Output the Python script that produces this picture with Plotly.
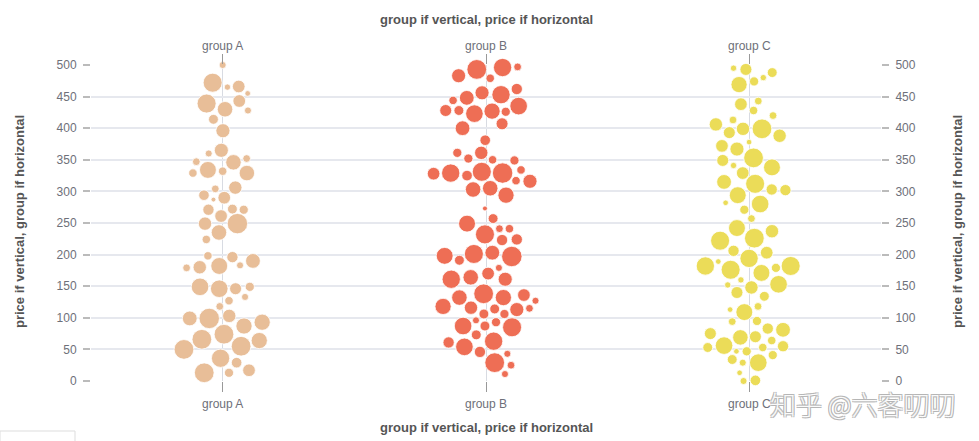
import plotly.graph_objects as go

groups = ["group A", "group B", "group C"]
colors = ["#E8BE98", "#EE6E55", "#EBDC58"]
y_ticks = [0, 50, 100, 150, 200, 250, 300, 350, 400, 450, 500]
axis_title_x = "group if vertical, price if horizontal"
axis_title_y = "price if vertical, group if horizontal"

# group A
a_price = [500, 472, 465, 466, 455, 439, 443, 430, 428, 414,
           396, 365, 360, 347, 346, 352, 334, 332, 329, 329,
           306, 304, 294, 290, 287, 271, 272, 271, 261, 249,
           249, 235, 224, 198, 196, 190, 180, 182, 179, 183,
           149, 146, 146, 149, 133, 127, 118, 99, 99, 103,
           87, 93, 66, 74, 64, 50, 55, 36, 29, 13, 13, 17]
a_jitter = [0, -0.038, 0.018, 0.061, 0.095, -0.061, 0.063, 0.009, 0.096, -0.035,
            0.001, -0.005, -0.053, -0.100, 0.041, 0.091, -0.056, 0, -0.113, 0.092,
            0.048, -0.028, -0.071, 0.006, -0.035, -0.054, 0.037, 0.080, -0.006, 0.056,
            -0.067, -0.014, -0.062, -0.056, 0.037, 0.115, -0.087, -0.013, -0.137, 0.066,
            -0.086, -0.013, 0.049, 0.103, 0.085, 0.024, -0.011, -0.125, -0.051, 0.025,
            0.081, 0.150, -0.079, 0.005, 0.139, -0.147, 0.070, -0.008, 0.053, -0.070, 0.024, 0.100]
a_amount = [10, 27, 9, 18, 8, 27, 18, 22, 10, 14,
            20, 20, 10, 11, 22, 11, 24, 12, 12, 22,
            19, 11, 15, 18, 7, 16, 14, 13, 18, 29,
            19, 22, 12, 12, 16, 21, 19, 24, 11, 10,
            25, 25, 17, 13, 10, 12, 11, 21, 29, 19,
            23, 23, 28, 28, 23, 28, 28, 26, 15, 28, 13, 18]

# group B
b_price = [483, 493, 479, 496, 497, 444, 448, 456, 453, 462,
           428, 428, 423, 427, 426, 435, 400, 407, 381, 361,
           352, 361, 350, 349, 328, 329, 325, 331, 329, 334,
           317, 316, 303, 305, 294, 273, 249, 257, 232, 241,
           241, 223, 224, 198, 191, 201, 203, 197, 179, 161,
           164, 170, 161, 132, 138, 132, 136, 127, 118, 116,
           106, 114, 106, 113, 115, 87, 96, 87, 93, 85,
           73, 61, 54, 63, 46, 29, 43, 25, 11]
b_jitter = [-0.104, -0.035, 0.016, 0.063, 0.120, -0.125, -0.073, -0.015, 0.057, 0.117,
            -0.153, -0.103, -0.044, 0.023, 0.075, 0.124, -0.089, 0.061, -0.003, -0.109,
            -0.067, -0.018, 0.025, 0.108, -0.199, -0.134, -0.072, -0.016, 0.063, 0.133,
            0.114, 0.167, -0.049, 0.016, 0.076, -0.004, -0.072, 0.027, -0.004, 0.051,
            0.089, 0.061, 0.117, -0.157, -0.101, -0.046, 0.024, 0.098, 0.049, -0.132,
            -0.058, 0.008, 0.073, -0.101, -0.009, 0.066, 0.144, 0.188, -0.163, -0.057,
            -0.008, 0.033, 0.070, 0.117, 0.165, -0.087, -0.038, -0.004, 0.038, 0.099,
            -0.037, -0.142, -0.082, 0.029, -0.023, 0.033, 0.081, 0.095, 0.072]
b_amount = [20, 28, 12, 26, 11, 12, 21, 20, 26, 16,
            17, 14, 25, 23, 13, 25, 21, 17, 15, 13,
            13, 19, 12, 13, 18, 26, 15, 27, 29, 12,
            12, 20, 22, 22, 23, 7, 24, 14, 27, 11,
            12, 16, 16, 24, 14, 27, 21, 29, 10, 26,
            22, 18, 20, 22, 28, 23, 18, 10, 23, 19,
            14, 14, 13, 20, 11, 25, 10, 14, 13, 27,
            14, 16, 25, 26, 16, 28, 10, 11, 10]

# group C
c_price = [495, 493, 469, 474, 480, 488, 438, 443, 428, 420,
           406, 413, 393, 399, 399, 388, 372, 367, 378, 349,
           341, 353, 338, 329, 315, 312, 303, 302, 294, 282,
           280, 271, 257, 242, 237, 222, 226, 206, 203, 194,
           182, 189, 176, 171, 179, 182, 160, 152, 148, 140,
           153, 134, 118, 109, 113, 94, 95, 75, 56, 69,
           70, 83, 81, 64, 53, 47, 47, 53, 55, 41,
           34, 29, 29, 13, 0, 1]
c_jitter = [-0.060, -0.013, -0.039, 0.018, 0.053, 0.087, -0.032, 0.034, 0.016, 0.090,
            -0.127, -0.062, -0.076, -0.024, 0.048, 0.115, -0.104, -0.047, -0.001, -0.101,
            -0.060, 0.016, 0.086, -0.025, -0.096, 0.022, 0.085, 0.137, -0.044, -0.090,
            0.041, -0.019, 0.008, -0.047, 0.086, -0.111, 0.019, -0.060, 0.066, -0.001,
            -0.167, -0.118, -0.071, 0.046, 0.101, 0.157, -0.032, -0.082, 0.008, -0.047,
            0.111, 0.057, 0.033, -0.019, -0.073, -0.065, 0.029, -0.148, -0.096, -0.034,
            0.023, 0.070, 0.128, 0.085, -0.158, -0.049, -0.010, 0.051, 0.128, 0.089,
            -0.065, -0.025, 0.034, -0.037, -0.022, 0.023]
c_amount = [9, 17, 23, 13, 9, 14, 18, 11, 12, 11,
            19, 11, 17, 19, 28, 19, 18, 20, 8, 17,
            9, 28, 24, 18, 21, 27, 16, 16, 24, 8,
            25, 13, 11, 24, 19, 27, 28, 16, 18, 26,
            26, 8, 27, 24, 13, 27, 9, 9, 19, 17,
            25, 14, 11, 24, 8, 11, 13, 17, 25, 22,
            17, 16, 21, 12, 14, 8, 13, 12, 16, 13,
            14, 10, 25, 8, 10, 15]

series = [(a_price, a_jitter, a_amount), (b_price, b_jitter, b_amount), (c_price, c_jitter, c_amount)]

FONT = "Liberation Sans, Arial, sans-serif"
TICK_COLOR = "#6E7079"
GRID = "#E6E8EE"

W, H = 979, 441
ml, mr, mt, mb = 91, 98, 65, 60
pw, ph = W - ml - mr, H - mt - mb


def px_to_paper_x(px):
    return (px - ml) / pw


def px_to_paper_y(py):
    return (H - mb - py) / ph


fig = go.Figure()
for gi, (price, jit, amt) in enumerate(series):
    fig.add_trace(go.Scatter(
        x=[gi + j for j in jit], y=price, mode="markers",
        name=groups[gi], cliponaxis=False,
        marker=dict(size=amt, sizemode="diameter", sizeref=1.42,
                    color=colors[gi], opacity=1,
                    line=dict(color="white", width=0.8)),
        showlegend=False,
    ))
# invisible trace to activate secondary axes
fig.add_trace(go.Scatter(x=[0], y=[0], xaxis="x2", yaxis="y2", mode="markers",
                         marker=dict(opacity=0), showlegend=False, hoverinfo="skip"))

xcommon = dict(range=[-0.5, 2.5], tickmode="array", tickvals=[0, 1, 2], ticktext=groups,
               ticks="outside", ticklen=10, tickcolor="#999", tickwidth=1,
               tickfont=dict(family=FONT, size=12, color=TICK_COLOR), zeroline=False,
               showline=False)
ycommon = dict(range=[0, 500], tickmode="array", tickvals=y_ticks,
               ticks="outside", ticklen=7, tickcolor="#BBB", tickwidth=1.5,
               tickfont=dict(family=FONT, size=12, color=TICK_COLOR), zeroline=False,
               showline=False, ticklabelstandoff=4)

title_font = dict(family=FONT, size=13, color="#555")


def ann(text, px, py, angle=0, font=title_font):
    return dict(text=text, x=px_to_paper_x(px), y=px_to_paper_y(py), xref="paper", yref="paper",
                xanchor="center", yanchor="middle", showarrow=False, textangle=angle, font=font)


fig.update_layout(
    width=W, height=H,
    margin=dict(l=ml, r=mr, t=mt, b=mb),
    paper_bgcolor="white", plot_bgcolor="white",
    xaxis=dict(**xcommon, side="bottom", showgrid=True, gridcolor="#D8DBE2", gridwidth=1,
               ticklabelstandoff=2),
    xaxis2=dict(**xcommon, side="top", overlaying="x", showgrid=False, ticklabelstandoff=-1),
    yaxis=dict(**ycommon, side="left", showgrid=True, gridcolor=GRID, gridwidth=1.5),
    yaxis2=dict(**ycommon, side="right", overlaying="y", showgrid=False),
    annotations=[
        ann("<b>" + axis_title_x + "</b>", 486, 20),
        ann("<b>" + axis_title_x + "</b>", 486, 428),
        ann("<b>" + axis_title_y + "</b>", 19, 222, -90),
        ann("<b>" + axis_title_y + "</b>", 957, 222, -90),
        ann("知乎 @六客叨叨", 862, 403, 0,
            dict(family="Noto Sans CJK SC", size=26, color="rgba(255,255,255,0.92)",
                 weight=300,
                 shadow="1px 1px 0 #B5B5B5, -1px -1px 0 #B5B5B5, 1px -1px 0 #B5B5B5, -1px 1px 0 #B5B5B5")),
    ],
)

fig.add_shape(type="rect", xref="paper", yref="paper",
              x0=px_to_paper_x(0), x1=px_to_paper_x(75), y0=px_to_paper_y(450), y1=px_to_paper_y(431),
              line=dict(color="#DDD", width=1), fillcolor="white")

fig.write_html("out.html")
